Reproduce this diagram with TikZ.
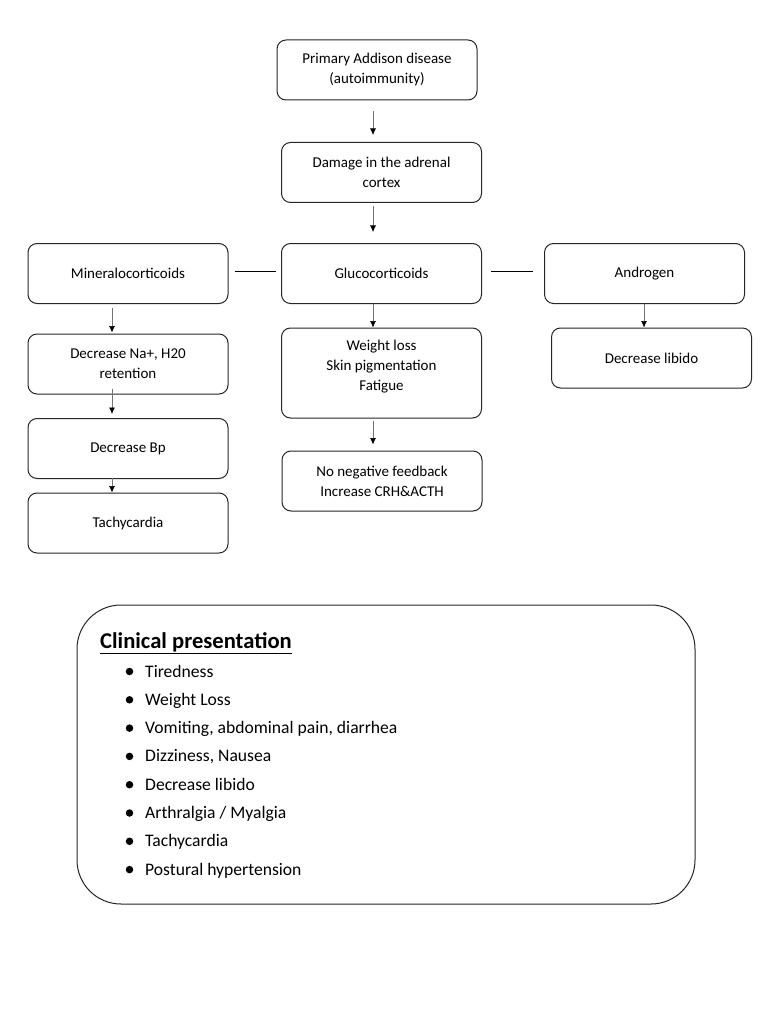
\documentclass[tikz,border=0pt]{standalone}
\usepackage{fontspec}
\setmainfont{Carlito}
\usetikzlibrary{arrows.meta,calc}
\begin{document}
\begin{tikzpicture}[x=1pt,y=-1pt,
  boxfont/.style={font=\fontsize{15}{20}\selectfont},
  box/.style={draw=black!85, line width=1pt, rounded corners=9pt, minimum width=200pt,
    minimum height=60pt, align=center, inner sep=0pt, boxfont},
  arr/.style={draw=black!55, line width=0.7pt, -{Latex[length=6.5pt,width=6pt,black]}},
  link/.style={draw=black, line width=0.8pt},
  item/.style={anchor=base west, inner sep=0pt, font=\fontsize{17.6}{20}\selectfont},
  dot/.style={circle, fill=black, inner sep=0pt, minimum size=7.5pt}]
\fill[white] (0,0) rectangle (768,1024);
\path[use as bounding box] (0,0) rectangle (768,1024);

% flowchart boxes
\node[box] (prim) at (377,70) {Primary Addison disease\\(autoimmunity)};
\node[box] (dmg) at (381.5,172.5) {Damage in the adrenal\\cortex};
\node[box] (mine) at (128,273.5) {Mineralocorticoids};
\node[box] (gluc) at (381.5,273.5) {Glucocorticoids};
\node[box] (andr) at (644.5,273.5) {\strut Androgen};
\node[box] (na) at (128,364) {Decrease Na+, H20\\retention};
\node[box] (bp) at (128,448.5) {Decrease Bp};
\node[box] (tachy) at (128,523) {Tachycardia};
\node[box, minimum height=90pt] (wl) at (381.5,373) {};
\node[align=center, inner sep=0pt, boxfont] (wltext) at (381.5,367) {Weight loss\\Skin pigmentation\\Fatigue};
\node[box] (noneg) at (382,481) {No negative feedback\\Increase CRH\&ACTH};
\node[box] (lib) at (651.5,358) {Decrease libido};

% arrow x positions
\coordinate (cx) at (373,0);
\coordinate (lx) at (112,0);
\coordinate (rx) at (644,0);

\draw[arr, shorten <=11pt, shorten >=7pt] (prim.south -| cx) -- (dmg.north -| cx);
\draw[arr, shorten <=3pt, shorten >=11pt] (dmg.south -| cx) -- (gluc.north -| cx);
\draw[arr, shorten <=4pt, shorten >=1pt] (mine.south -| lx) -- (na.north -| lx);
\draw[arr, shorten <=-6pt, shorten >=4pt] (na.south -| lx) -- (bp.north -| lx);
\draw[arr, shorten <=-1pt, shorten >=0pt] (bp.south -| lx) -- (tachy.north -| lx);
\draw[arr] (gluc.south -| cx) -- (wl.north -| cx);
\draw[arr, shorten <=2pt, shorten >=6pt] (wl.south -| cx) -- (noneg.north -| cx);
\draw[arr] (andr.south -| rx) -- (lib.north -| rx);

\draw[link, shorten <=6pt, shorten >=5pt] ([yshift=2.5pt]mine.east) -- ([yshift=2.5pt]gluc.west);
\draw[link, shorten <=9pt, shorten >=11pt] ([yshift=2.5pt]gluc.east) -- ([yshift=2.5pt]andr.west);

% clinical presentation panel
\node[draw=black!85, line width=1pt, rounded corners=44pt, minimum width=618pt,
  minimum height=299pt, inner sep=0pt] (clin) at (386,754.5) {};
\node[anchor=base west, inner sep=0pt, font=\fontsize{22.6}{26}\selectfont\bfseries] (title)
  at (100,648) {\underline{Clinical presentation}};

\foreach \i/\t [count=\n from 0] in {i1/{Tiredness}, i2/{Weight Loss},
  i3/{Vomiting, abdominal pain, diarrhea}, i4/{Dizziness, Nausea}, i5/{Decrease libido},
  i6/{Arthralgia / Myalgia}, i7/{Tachycardia}, i8/{Postural hypertension}} {
  \node[item] (\i) at (145,677+28.3*\n) {\t};
  \node[dot] (b\i) at (129.5,671.5+28.3*\n) {};
}
\end{tikzpicture}
\end{document}
